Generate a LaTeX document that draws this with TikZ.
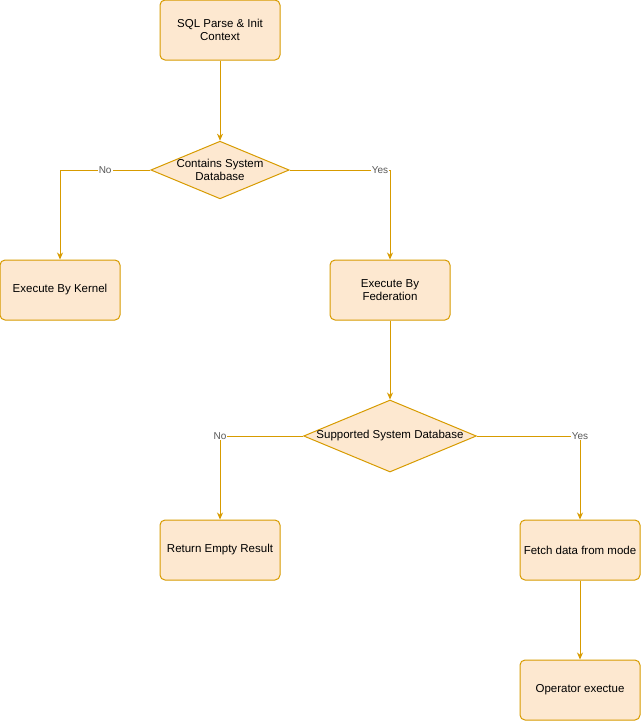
\documentclass[tikz,border=0pt]{standalone}
\usepackage{fontspec}
\setmainfont{Liberation Sans}
\usetikzlibrary{shapes.geometric,arrows.meta}
\definecolor{strk}{HTML}{D79B00}
\definecolor{fil}{HTML}{FDE8D0}
\begin{document}
\begin{tikzpicture}[x=1pt,y=-1pt,
  box/.style={draw=strk,fill=fil,line width=1pt,rounded corners=5pt,minimum width=120pt,minimum height=60pt,align=center,font=\fontsize{11.5}{13}\selectfont},
  dia/.style={draw=strk,fill=fil,line width=1pt,diamond,aspect=2.4,inner sep=0pt,align=center,font=\fontsize{11.5}{13}\selectfont},
  conn/.style={draw=strk,line width=0.8pt,-{Stealth[length=7pt,width=6pt]}},
  lab/.style={fill=white,inner sep=1pt,text=black!65,font=\fontsize{10}{12}\selectfont}]
\useasboundingbox (0,0) rectangle (641,721);
\node[box] (a) at (220,30) {SQL Parse \& Init\\Context};
\node[dia,minimum width=136pt,minimum height=57pt] (b) at (220,170) {Contains System\\Database};
\node[box] (c) at (60,290) {Execute By Kernel};
\node[box] (d) at (390,290) {Execute By\\Federation};
\node[dia,minimum width=162pt,minimum height=68pt] (e) at (390,436) {Supported System Database};
\node[box] (f) at (220,550) {Return Empty Result};
\node[box] (g) at (580,550) {Fetch data from mode};
\node[box] (h) at (580,690) {Operator exectue};
\draw[conn] (a) -- (b);
\draw[conn] (b.west) -| (c.north) node[lab,pos=0.25] {No};
\draw[conn] (b.east) -| (d.north) node[lab,pos=0.45] {Yes};
\draw[conn] (d) -- (e);
\draw[conn] (e.west) -| (f.north) node[lab,pos=0.5] {No};
\draw[conn] (e.east) -| (g.north) node[lab,pos=0.5] {Yes};
\draw[conn] (g) -- (h);
\end{tikzpicture}
\end{document}
